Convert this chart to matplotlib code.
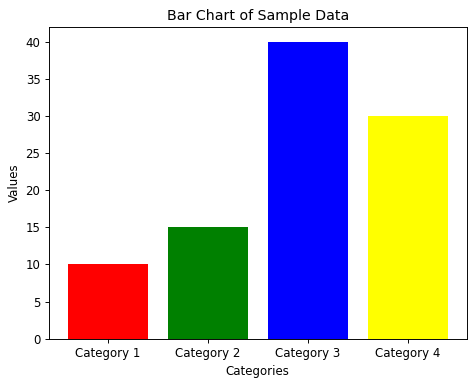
import matplotlib.pyplot as plt

categories = ['Category 1', 'Category 2', 'Category 3', 'Category 4']
values = [10, 15, 40, 30]
colors = ['red', 'green', 'blue', 'yellow']

dpi = 85
fig, ax = plt.subplots(figsize=(474 / dpi, 383 / dpi), dpi=dpi)
ax.bar(categories, values, color=colors)
ax.set_title('Bar Chart of Sample Data')
ax.set_xlabel('Categories')
ax.set_ylabel('Values')
fig.subplots_adjust(left=48.7 / 474, right=466.7 / 474,
                    top=1 - 27 / 383, bottom=1 - 338.7 / 383)
fig.savefig('out.png', dpi=dpi)
